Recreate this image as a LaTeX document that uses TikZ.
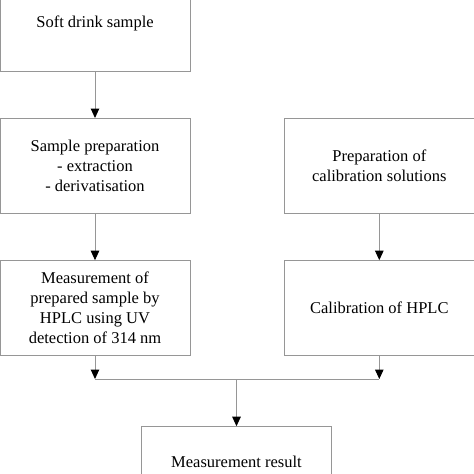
\documentclass[tikz,border=0pt]{standalone}
\usepackage{fontspec}
\setmainfont{Liberation Serif}
\usetikzlibrary{arrows.meta}
\definecolor{linegray}{RGB}{150,150,150}
\tikzset{
  box/.style={draw=linegray, line width=1pt, fill=white, minimum width=190pt, minimum height=95pt, align=center, font=\fontsize{16.5}{20}\selectfont, inner sep=0pt},
  conn/.style={draw=linegray, line width=1pt},
  arr/.style={conn, -{Triangle[width=8.5pt,length=9.5pt,fill=black,color=black]}}
}
\begin{document}
\begin{tikzpicture}[x=1pt,y=-1pt]
\useasboundingbox (0,0) rectangle (474,474);
\clip (0,0) rectangle (474,474);
\fill[white] (0,0) rectangle (474,474);
\node[box] (b1) at (95,23.5) {Soft drink sample};
\node[box] (b2) at (95,166) {Sample preparation\\- extraction\\- derivatisation};
\node[box] (b3) at (95,308.2) {Measurement of\\prepared sample by\\HPLC using UV\\detection of 314 nm};
\node[box] (r1) at (379.3,166) {Preparation of\\calibration solutions};
\node[box] (r2) at (379.3,308.2) {Calibration of HPLC};
\node[box] (res) at (236.5,474.2) {Measurement result\\[5pt]};
\coordinate (m1) at (95,379);
\coordinate (m2) at (379.3,379);
\coordinate (m3) at (236.5,379);
\draw[arr] (b1) -- (b2);
\draw[arr] (b2) -- (b3);
\draw[arr] (r1) -- (r2);
\draw[arr] (b3) -- (m1);
\draw[arr] (r2) -- (m2);
\draw[conn] (m1) -- (m2);
\draw[arr] (m3) -- (res);
\end{tikzpicture}
\end{document}
